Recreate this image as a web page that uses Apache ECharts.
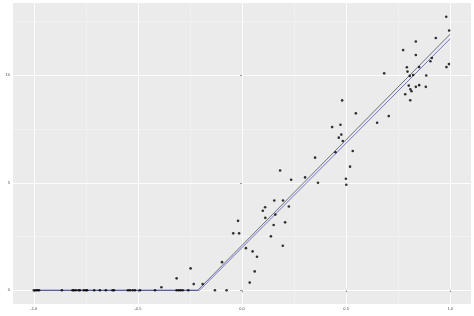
<!DOCTYPE html>
<html><head><meta charset="utf-8">
<script src="https://cdn.jsdelivr.net/npm/echarts@6/dist/echarts.min.js"></script>
<style>html,body{margin:0;padding:0;background:#fff}#c{width:474px;height:316px}</style>
</head><body><div id="c"></div>
<script>
// Tick values and labels
const xTicks = [-1, -0.5, 0, 0.5, 1];
const xTickLabels = ["-1.0", "-0.5", "0.0", "0.5", "1.0"];
const xMinor = [-0.75, -0.25, 0.25, 0.75];
const yTicks = [0, 5, 10];
const yTickLabels = ["0", "5", "10"];
const yMinor = [2.5, 7.5, 12.5];

// Observed points
const pointsX = [
 -1.00,-0.990,-0.982,-0.975,-0.865,-0.814,-0.808,-0.798,-0.785,-0.779,-0.760,-0.750,-0.744,-0.710,-0.683,-0.654,-0.622,-0.615,
 -0.548,-0.538,-0.525,-0.514,-0.490,-0.418,-0.387,-0.314,-0.304,-0.295,-0.285,-0.258,-0.130,-0.074,
 -0.314,-0.247,-0.232,-0.189,-0.096,-0.042,-0.014,-0.019,0.019,0.037,0.051,0.061,0.072,0.100,0.111,0.112,
 0.139,0.152,0.155,0.160,0.196,0.197,0.207,0.225,0.183,0.236,0.303,0.351,0.365,0.433,0.449,0.465,0.473,
 0.477,0.481,0.484,0.499,0.501,0.519,0.532,0.547,0.649,0.683,0.705,0.774,0.784,0.792,0.795,0.801,0.806,
 0.808,0.809,0.814,0.822,0.835,0.835,0.835,0.851,0.851,0.883,0.885,0.905,0.912,0.931,0.981,0.982,0.994,0.995
];
const pointsY = [
 0,0,0,0,0,0,0,0,0,0,0,0,0,0,0,0,0,0,
 0,0,0,0,0,0,0.14,0,0,0,0,0,0,0,
 0.556,1.02,0.29,0.29,1.31,2.65,2.65,3.23,1.96,0.36,1.81,0.88,1.56,3.70,3.86,3.37,
 2.51,3.04,4.18,3.52,2.07,4.18,3.16,3.90,5.57,5.14,5.25,6.17,5.00,7.59,6.42,7.10,7.70,
 7.24,8.83,6.94,5.19,4.91,5.75,6.48,8.23,7.79,10.09,8.10,11.17,9.12,10.37,10.17,9.52,9.97,
 8.84,9.35,9.26,10.01,11.57,10.94,9.46,10.38,9.54,9.46,9.99,10.65,10.80,11.73,12.72,10.38,10.52,12.08
];

// Fitted hinge lines
const blackLineX = [-1.0, -0.213, 1.0];
const blackLineY = [0, 0, 11.91];
const blueLineX = [-1.0, -0.204, 1.0];
const blueLineY = [0, 0, 11.70];

const pts = pointsX.map((x, i) => [x, pointsY[i]]);
const zipL = (xs, ys) => xs.map((x, i) => [x, ys[i]]);

const xMin = -1.1, xMax = 1.1, yMin = -0.636, yMax = 13.36;
const font = 'Liberation Sans, Arial, sans-serif';

const gridLines = [
  ...xTicks.map(v => ({xAxis: v, lineStyle: {color: '#ffffff', width: 0.9, type: 'solid'}})),
  ...xMinor.map(v => ({xAxis: v, lineStyle: {color: '#f6f6f6', width: 0.5, type: 'solid'}})),
  ...yTicks.map(v => ({yAxis: v, lineStyle: {color: '#ffffff', width: 0.9, type: 'solid'}})),
  ...yMinor.map(v => ({yAxis: v, lineStyle: {color: '#f6f6f6', width: 0.5, type: 'solid'}}))
];

const chart = echarts.init(document.getElementById('c'), null, {renderer: 'canvas'});
chart.setOption({
  animation: false,
  backgroundColor: '#ffffff',
  grid: {left: 13, right: 3, top: 3, bottom: 12, show: true, backgroundColor: '#ebebeb', borderWidth: 0,
         containLabel: false, outerBoundsMode: 'none'},
  xAxis: {
    type: 'value', min: xMin, max: xMax,
    name: 'x', nameLocation: 'middle', nameGap: 7,
    nameTextStyle: {fontSize: 5, color: '#000', fontFamily: font},
    axisLine: {show: false},
    axisTick: {show: true, length: 2, customValues: xTicks, lineStyle: {color: '#333', width: 0.5}},
    axisLabel: {show: true, fontSize: 4, color: '#4d4d4d', margin: 3, fontFamily: font,
      customValues: xTicks,
      formatter: v => { const i = xTicks.findIndex(t => Math.abs(t - v) < 1e-9); return i >= 0 ? xTickLabels[i] : ''; }},
    splitLine: {show: false}
  },
  yAxis: {
    type: 'value', min: yMin, max: yMax,
    name: 'y', nameLocation: 'middle', nameGap: 8, nameRotate: 90,
    nameTextStyle: {fontSize: 5, color: '#000', fontFamily: font},
    axisLine: {show: false},
    axisTick: {show: true, length: 2, customValues: yTicks, lineStyle: {color: '#333', width: 0.5}},
    axisLabel: {show: true, fontSize: 4, color: '#4d4d4d', margin: 3, fontFamily: font,
      customValues: yTicks,
      formatter: v => { const i = yTicks.findIndex(t => Math.abs(t - v) < 1e-9); return i >= 0 ? yTickLabels[i] : ''; }},
    splitLine: {show: false}
  },
  series: [
    {type: 'scatter', data: [], z: 0, zlevel: 0, silent: true,
     markLine: {z: 0, silent: true, symbol: ['none', 'none'], label: {show: false}, animation: false, data: gridLines}},
    {type: 'line', data: zipL(blackLineX, blackLineY), z: 6, symbol: 'none',
     lineStyle: {color: '#333333', width: 0.8, opacity: 0.85}},
    {type: 'line', data: zipL(blueLineX, blueLineY), z: 6, symbol: 'none',
     lineStyle: {color: '#3535c8', width: 0.8, opacity: 0.85}},
    {type: 'scatter', data: pts, z: 10, symbolSize: 2.6, itemStyle: {color: '#000000'}}
  ]
});
</script></body></html>
